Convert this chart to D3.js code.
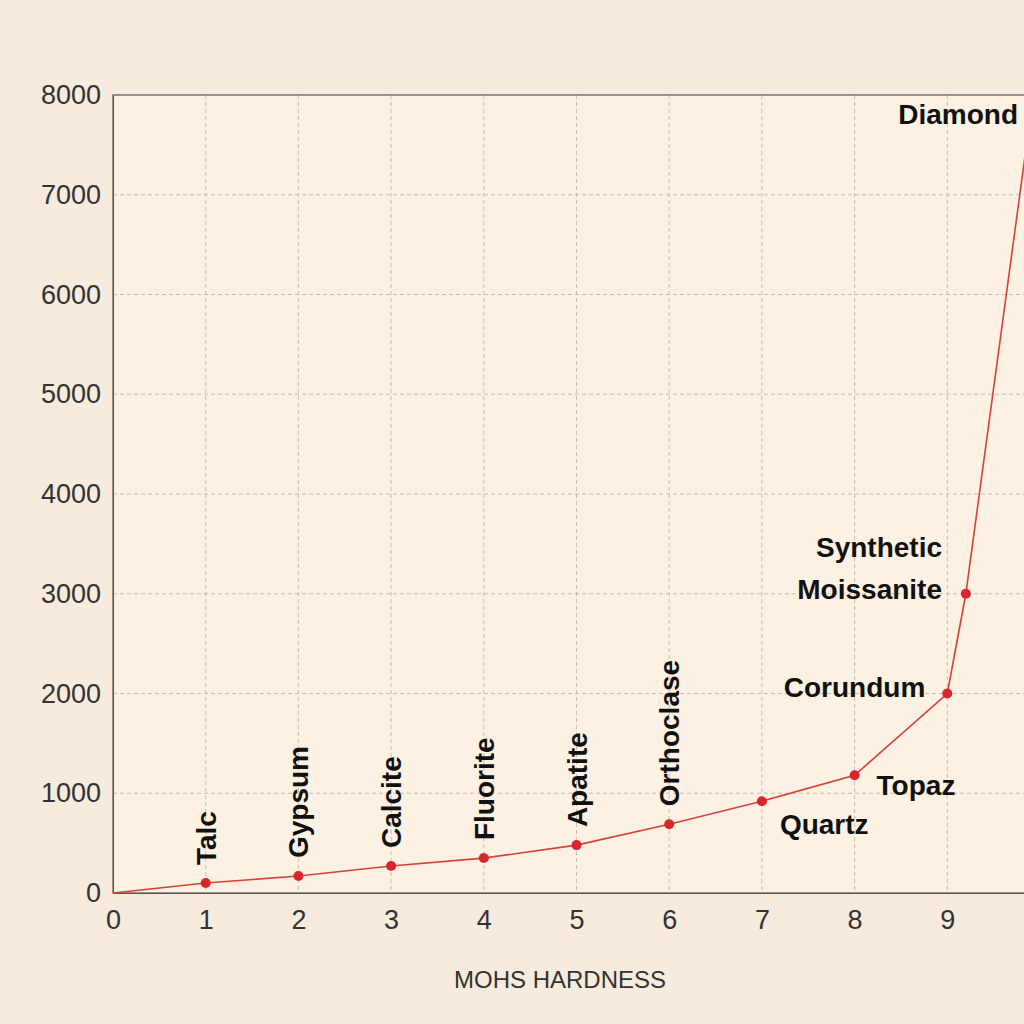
<!DOCTYPE html>
<html><head><meta charset="utf-8">
<script src="https://cdn.jsdelivr.net/npm/d3@7"></script>
<style>body{margin:0;background:#f6ebdd;} svg{display:block;}</style>
</head><body>
<div id="chart"></div>
<script>
// minerals on the Mohs scale vs Knoop hardness
let minerals = ["", "Talc", "Gypsum", "Calcite", "Fluorite", "Apatite", "Orthoclase", "Quartz", "Topaz", "Corundum", "Synthetic Moissanite", "Diamond"];
let mohs = [0, 1, 2, 3, 4, 5, 6, 7, 8, 9, 9.2, 10];
let knoop = [0, 100, 170, 270, 350, 480, 690, 920, 1180, 2000, 3000, 8500];
let xTicks = [0, 1, 2, 3, 4, 5, 6, 7, 8, 9, 10];
let yTicks = [0, 1000, 2000, 3000, 4000, 5000, 6000, 7000, 8000];

let W = 1024, H = 1024;
let svg = d3.select("#chart").append("svg").attr("width", W).attr("height", H);
svg.append("rect").attr("width", W).attr("height", H).attr("fill", "#f6ebdd");

let x = d3.scaleLinear().domain([0, 10]).range([113, 1040]);
let y = d3.scaleLinear().domain([0, 8000]).range([893, 95]);

// plot area
svg.append("rect").attr("x", 113).attr("y", 95).attr("width", W).attr("height", 798)
    .attr("fill", "#fcf1e2").attr("stroke", "#555").attr("stroke-width", 1.2);

// grid
svg.append("g").selectAll("line").data(xTicks.slice(1)).enter().append("line")
    .attr("x1", d => x(d)).attr("x2", d => x(d)).attr("y1", 95).attr("y2", 893)
    .attr("stroke", "#b9b2a8").attr("stroke-dasharray", "4,3").attr("stroke-width", 0.8);
svg.append("g").selectAll("line").data(yTicks.slice(1, -1)).enter().append("line")
    .attr("x1", 113).attr("x2", W).attr("y1", d => y(d)).attr("y2", d => y(d))
    .attr("stroke", "#b9b2a8").attr("stroke-dasharray", "4,3").attr("stroke-width", 0.8);

// axes
let xAxis = svg.append("g").attr("transform", "translate(0,893)")
    .call(d3.axisBottom(x).tickValues(xTicks.slice(0, -1)).tickFormat(d3.format("d")).tickSize(0).tickPadding(20));
let yAxis = svg.append("g").attr("transform", "translate(113,0)")
    .call(d3.axisLeft(y).tickValues(yTicks).tickFormat(d3.format("d")).tickSize(0).tickPadding(12));
[xAxis, yAxis].forEach(a => {
    a.select(".domain").attr("stroke", "#555");
    a.selectAll("text").attr("font-family", "Liberation Sans, Arial").attr("font-size", 27).attr("fill", "#333");
});
xAxis.selectAll("text").attr("dy", "0.6em");

let font = "Liberation Sans, Arial";
svg.append("text").attr("x", 560).attr("y", 988).attr("text-anchor", "middle")
    .attr("font-family", font).attr("font-size", 24).attr("fill", "#333")
    .text("MOHS HARDNESS");

// line and points
let pts = mohs.map((m, i) => [m, knoop[i]]);
svg.append("path").datum(pts)
    .attr("d", d3.line().x(d => x(d[0])).y(d => y(d[1])))
    .attr("fill", "none").attr("stroke", "#d9403a").attr("stroke-width", 1.6);
svg.append("g").selectAll("circle").data(pts.slice(1)).enter().append("circle")
    .attr("cx", d => x(d[0])).attr("cy", d => y(d[1])).attr("r", 5).attr("fill", "#d8262a");

// labels
pts.slice(1, 7).forEach((d, i) => {
    svg.append("text").attr("transform", `translate(${x(d[0]) + 10},${y(d[1]) - 18}) rotate(-90)`)
        .attr("font-family", font).attr("font-weight", "bold").attr("font-size", 28).attr("fill", "#111")
        .text(minerals[i + 1]);
});
let flat = [
    {i: 7, dx: 18, dy: 33, a: "start"},
    {i: 8, dx: 22, dy: 20, a: "start"},
    {i: 9, dx: -22, dy: 3, a: "end"}
];
flat.forEach(f => {
    svg.append("text").attr("x", x(mohs[f.i]) + f.dx).attr("y", y(knoop[f.i]) + f.dy)
        .attr("text-anchor", f.a).attr("font-family", font).attr("font-weight", "bold")
        .attr("font-size", 28).attr("fill", "#111").text(minerals[f.i]);
});
svg.append("text").attr("x", 1018).attr("y", 124).attr("text-anchor", "end")
    .attr("font-family", font).attr("font-weight", "bold").attr("font-size", 28).attr("fill", "#111")
    .text(minerals[11]);
let sm = svg.append("text").attr("text-anchor", "end").attr("font-family", font)
    .attr("font-weight", "bold").attr("font-size", 28).attr("fill", "#111");
sm.append("tspan").attr("x", 942).attr("y", y(3000) - 37).text("Synthetic");
sm.append("tspan").attr("x", 942).attr("y", y(3000) + 5).text("Moissanite");
</script>
</body></html>
